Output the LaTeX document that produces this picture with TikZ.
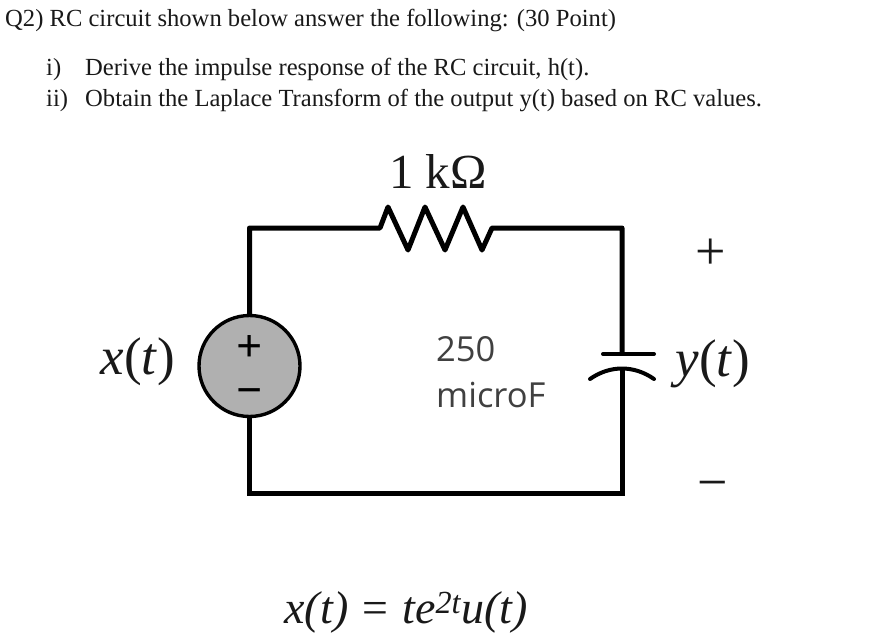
\documentclass[tikz,border=0pt]{standalone}
\usepackage{fontspec}
\setmainfont{Liberation Serif}
\newfontfamily\capfont{Open Sans}
\usetikzlibrary{positioning}
\definecolor{inktext}{gray}{0.1}
\definecolor{sourcegray}{gray}{0.69}
\tikzset{
    wire/.style={line width=5pt, line cap=butt},
    platewire/.style={line width=4pt, line cap=round},
    question/.style={anchor=base west, inner sep=0pt, font=\fontsize{24.6}{29}\selectfont, text=inktext},
    bigmath/.style={anchor=base, inner sep=0pt, font=\fontsize{49}{54}\selectfont, text=inktext},
    capvalue/.style={anchor=base west, inner sep=0pt, font=\capfont\fontsize{34.5}{40}\selectfont, text=black!75},
    polarity/.style={inner sep=0pt, font=\fontsize{54}{60}\selectfont, text=inktext},
    srcsign/.style={inner sep=0pt, font=\bfseries\fontsize{46}{50}\selectfont},
}
\begin{document}
\begin{tikzpicture}[x=1pt, y=-1pt]
    \useasboundingbox[fill=white] (0, 0) rectangle (885, 634);

    % question text
    \node[question] (qhead) at (5, 27) {Q2) RC circuit shown below answer the following: (30 Point)};
    \node[question] (qonenum) at (46, 75) {i)};
    \node[question] (qone) at (85, 75) {Derive the impulse response of the RC circuit, h(t).};
    \node[question] (qtwonum) at (46, 106) {ii)};
    \node[question] (qtwo) at (85, 106) {Obtain the Laplace Transform of the output y(t) based on RC values.};

    % circuit corners
    \coordinate (tl) at (249.5, 228);
    \coordinate (tr) at (622, 228);
    \coordinate (bl) at (249.5, 493);
    \coordinate (br) at (622, 493);
    \coordinate (rin) at (380, 228);
    \coordinate (rout) at (492, 228);
    \coordinate (capt) at (622, 354);
    \coordinate (capb) at (622, 370);
    \coordinate (capal) at (603, 354);
    \coordinate (capar) at (654, 354);
    \coordinate (capbl) at (590, 379);
    \coordinate (capbr) at (654, 379);

    \node[circle, draw, line width=3.4pt, fill=sourcegray, minimum size=101pt, inner sep=0pt] (src) at (249.5, 366) {};
    \node[srcsign] (srcp) at (249.5, 349) {+};
    \node[srcsign] (srcm) at (249.5, 397) {\symbol{"2212}};

    \draw[wire, line join=round]
        (src.north) -- (tl) -- (rin)
        -- (388, 207) -- (408, 250) -- (425, 207) -- (445, 250) -- (463, 207) -- (482, 250) -- (rout)
        -- (tr) -- (capt);
    \draw[wire, line join=miter] (capb) -- (br) -- (bl) -- (src.south);
    \draw[platewire] (capal) -- (capar);
    \draw[platewire] (capbl) .. controls (610, 365) and (634, 365) .. (capbr);

    % labels
    \node[bigmath] (rlabel) at (438, 188) {1 k\symbol{"03A9}};
    \node[bigmath, font=\fontsize{53}{58}\selectfont] (xlabel) at (138, 374) {\textit{x}(\textit{t})};
    \node[bigmath, font=\fontsize{53}{58}\selectfont] (ylabel) at (713, 376) {\textit{y}(\textit{t})};
    \node[capvalue] (capone) at (436, 361) {250};
    \node[capvalue] (captwo) at (436, 407) {microF};
    \node[polarity] (yplus) at (711, 254) {+};
    \node[polarity] (yminus) at (713, 491) {\symbol{"2212}};
    \node[bigmath, font=\itshape\fontsize{46}{52}\selectfont] (formula) at (406, 623) {x(t) = te\textsuperscript{2t}u(t)};
\end{tikzpicture}
\end{document}
